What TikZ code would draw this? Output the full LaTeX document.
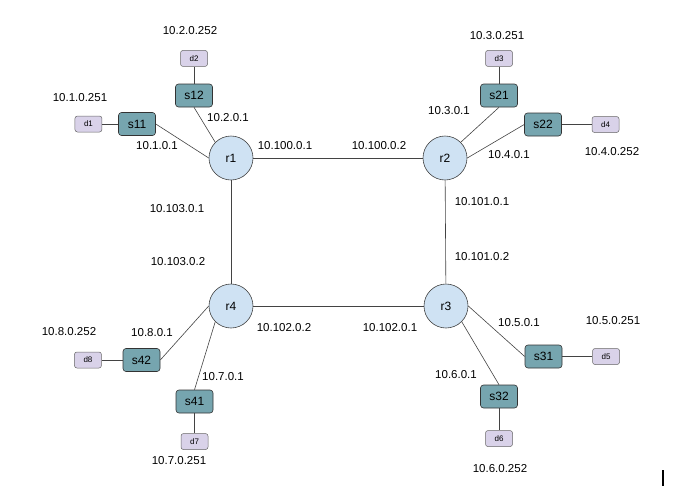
\documentclass[tikz,border=0pt]{standalone}
\usepackage{fontspec}
\setmainfont{Liberation Sans}
\usetikzlibrary{positioning}

\definecolor{routerfill}{HTML}{CFE2F3}
\definecolor{switchfill}{HTML}{76A5AF}
\definecolor{devfill}{HTML}{D9D2E9}
\definecolor{edgegray}{HTML}{434343}

\begin{document}
\begin{tikzpicture}[
  x=1pt, y=-1pt,
  font=\fontsize{11.5}{13}\selectfont,
  router/.style={circle, draw=edgegray, fill=routerfill, line width=.6pt,
    minimum size=44pt, inner sep=0pt, font=\fontsize{12}{14}\selectfont},
  switch/.style={draw=black!80, fill=switchfill, rounded corners=3pt,
    line width=.6pt, minimum width=37pt, minimum height=23pt, inner sep=0pt,
    font=\fontsize{12}{14}\selectfont},
  device/.style={draw=black!60, fill=devfill, rounded corners=2.5pt,
    line width=.5pt, minimum width=27pt, minimum height=16pt, inner sep=0pt,
    font=\fontsize{8}{9}\selectfont},
  link/.style={draw=edgegray, line width=.6pt},
  ip/.style={inner sep=0pt}
]
\useasboundingbox (0,0) rectangle (685,490);

% routers
\node[router] (r1) at (231,158) {r1};
\node[router] (r2) at (445,158) {r2};
\node[router] (r3) at (446,306) {r3};
\node[router] (r4) at (231,306) {r4};

% switches
\node[switch] (s11) at (137,124) {s11};
\node[switch] (s12) at (194,95.5) {s12};
\node[switch] (s21) at (499,95.5) {s21};
\node[switch] (s22) at (543,124.5) {s22};
\node[switch] (s31) at (543.5,356.5) {s31};
\node[switch] (s32) at (499,396.5) {s32};
\node[switch] (s41) at (194.5,401.5) {s41};
\node[switch] (s42) at (141.5,360) {s42};

% hosts
\node[device, left=16pt of s11] (d1) {d1};
\node[device, above=17pt of s12] (d2) {d2};
\node[device, above=17pt of s21] (d3) {d3};
\node[device, right=30pt of s22] (d4) {d4};
\node[device, right=30pt of s31] (d5) {d5};
\node[device, below=22pt of s32] (d6) {d6};
\node[device, below=20pt of s41] (d7) {d7};
\node[device, left=21pt of s42] (d8) {d8};

% core ring
\draw[link] (r1) -- (r2);
\draw[link] (r2) -- (r3);
\draw[link] (r3) -- (r4);
\draw[link] (r4) -- (r1);

% access links
\draw[link] (s11.east) -- (r1.west);
\draw[link] (s12.south) -- (r1.north west);
\draw[link] (s21.south) -- (r2.north east);
\draw[link] (s22.west) -- (r2.east);
\draw[link] (r3.east) -- (s31.west);
\draw[link] (r3.south east) -- (s32.north);
\draw[link] (r4.south west) -- (s41.north);
\draw[link] (r4.west) -- (s42.east);

\draw[link] (s11) -- (d1);
\draw[link] (s12) -- (d2);
\draw[link] (s21) -- (d3);
\draw[link] (s22) -- (d4);
\draw[link] (s31) -- (d5);
\draw[link] (s32) -- (d6);
\draw[link] (s41) -- (d7);
\draw[link] (s42) -- (d8);

% addresses
\node[ip] (a1)  at (80,98)   {10.1.0.251};
\node[ip] (a2)  at (157,146) {10.1.0.1};
\node[ip] (a3)  at (190,31)  {10.2.0.252};
\node[ip] (a4)  at (228,118) {10.2.0.1};
\node[ip] (a5)  at (285,146) {10.100.0.1};
\node[ip] (a6)  at (379,146) {10.100.0.2};
\node[ip] (a7)  at (497,36)  {10.3.0.251};
\node[ip] (a8)  at (449,111) {10.3.0.1};
\node[ip] (a9)  at (509,155) {10.4.0.1};
\node[ip] (a10) at (612,152) {10.4.0.252};
\node[ip] (a11) at (177,209) {10.103.0.1};
\node[ip] (a12) at (482,202) {10.101.0.1};
\node[ip] (a13) at (178,262) {10.103.0.2};
\node[ip] (a14) at (482,257) {10.101.0.2};
\node[ip] (a15) at (284,328) {10.102.0.2};
\node[ip] (a16) at (390,328) {10.102.0.1};
\node[ip] (a17) at (69,332)  {10.8.0.252};
\node[ip] (a18) at (152,333) {10.8.0.1};
\node[ip] (a19) at (223,377) {10.7.0.1};
\node[ip] (a20) at (179,461) {10.7.0.251};
\node[ip] (a21) at (519,323) {10.5.0.1};
\node[ip] (a22) at (613,321) {10.5.0.251};
\node[ip] (a23) at (456,375) {10.6.0.1};
\node[ip] (a24) at (500,469) {10.6.0.252};

% stray cursor mark
\draw[line width=2pt] (663,470) -- (663,486);

\end{tikzpicture}
\end{document}
